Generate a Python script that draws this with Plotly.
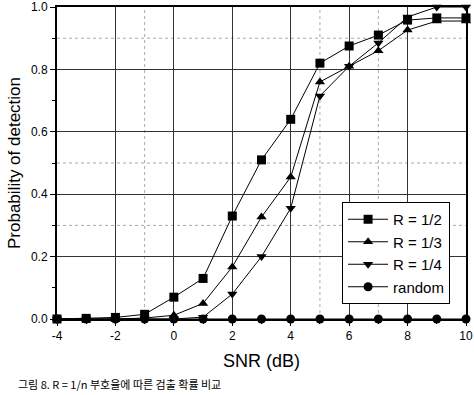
import plotly.graph_objects as go

snr = [-4, -3, -2, -1, 0, 1, 2, 3, 4, 5, 6, 7, 8, 9, 10]
r_half = [0.0, 0.002, 0.005, 0.015, 0.07, 0.13, 0.33, 0.51, 0.64, 0.82, 0.875, 0.91, 0.958, 0.965, 0.965]
r_third = [0.0, 0.0, 0.0, 0.003, 0.012, 0.05, 0.167, 0.327, 0.455, 0.76, 0.81, 0.86, 0.926, 0.955, 0.955]
r_quarter = [0.0, 0.0, 0.0, 0.0, 0.0, 0.006, 0.08, 0.2, 0.355, 0.715, 0.81, 0.885, 0.968, 1.0, 1.0]
rand = [0.0] * 15
series_names = ["R = 1/2", "R = 1/3", "R = 1/4", "random"]
symbols = ["square", "triangle-up", "triangle-down", "circle"]
x_ticks = [-4, -2, 0, 2, 4, 6, 8, 10]
y_ticks = [0.0, 0.2, 0.4, 0.6, 0.8, 1.0]
dotted_y = [0.9, 0.5, 0.3]
dotted_x = [-1, 5, 7]
caption = "그림 8. R = 1/n 부호율에 따른 검출 확률 비교"

fig = go.Figure()
for name, ys, sym in zip(series_names, [r_half, r_third, r_quarter, rand], symbols):
    fig.add_trace(go.Scatter(
        x=snr, y=ys, name=name, mode="lines+markers",
        line=dict(color="black", width=1),
        marker=dict(symbol=sym, size=9, color="black"),
        cliponaxis=False,
    ))

for v in dotted_y:
    fig.add_shape(type="line", xref="x", yref="y", x0=-4, x1=10, y0=v, y1=v,
                  line=dict(color="#aaaaaa", width=1, dash="dot"), layer="below")
for v in dotted_x:
    fig.add_shape(type="line", xref="x", yref="y", x0=v, x1=v, y0=0, y1=1,
                  line=dict(color="#aaaaaa", width=1, dash="dot"), layer="below")

font_family = "Liberation Sans, Arial, sans-serif"
fig.update_layout(
    width=474, height=395,
    margin=dict(l=57, r=8, t=7, b=76),
    paper_bgcolor="white", plot_bgcolor="white",
    font=dict(family=font_family, color="black", size=12),
    showlegend=True,
    legend=dict(x=0.697, y=0.375, xanchor="left", yanchor="top",
                bgcolor="white", bordercolor="black", borderwidth=1,
                font=dict(size=15, family=font_family), tracegroupgap=0,
                itemwidth=40),
    xaxis=dict(range=[-4, 10], tickvals=x_ticks, ticktext=[str(t) for t in x_ticks],
               showgrid=True, gridcolor="#333333", gridwidth=1,
               showline=True, linecolor="black", linewidth=2, mirror=True,
               ticks="outside", ticklen=5, tickcolor="black",
               minor=dict(tickvals=[-3, -1, 1, 3, 5, 7, 9], ticks="outside", ticklen=3,
                          tickcolor="black", showgrid=False, gridcolor="rgba(0,0,0,0)"),
               zeroline=False, automargin=False, ticklabeloverflow="allow",
               tickfont=dict(size=12),
               title=dict(text="SNR (dB)", font=dict(size=18), standoff=12)),
    yaxis=dict(range=[0, 1.0], tickvals=y_ticks, ticktext=["0.0", "0.2", "0.4", "0.6", "0.8", "1.0"],
               showgrid=True, gridcolor="#333333", gridwidth=1,
               showline=True, linecolor="black", linewidth=2, mirror=True,
               ticks="outside", ticklen=5, tickcolor="black",
               minor=dict(tickvals=[0.1, 0.3, 0.5, 0.7, 0.9], ticks="outside", ticklen=3,
                          tickcolor="black", showgrid=False, gridcolor="rgba(0,0,0,0)"),
               zeroline=False, automargin=False, ticklabeloverflow="allow",
               tickfont=dict(size=12),
               title=dict(text="Probability of detection", font=dict(size=17), standoff=6)),
)
fig.add_annotation(text=caption, xref="paper", yref="paper", x=-0.1, y=-0.24,
                   xanchor="left", yanchor="bottom", showarrow=False,
                   font=dict(size=11, family="Noto Sans CJK KR", color="black"))

fig.write_html("out.html", config={"displayModeBar": False},
               post_script="document.body.style.margin='0px';document.body.style.padding='0px';")
